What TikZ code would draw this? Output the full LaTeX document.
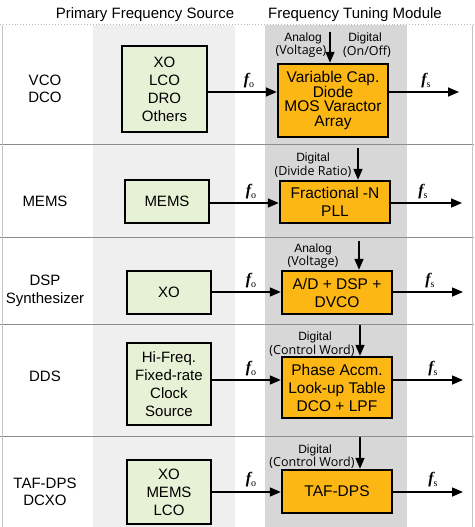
\documentclass[tikz,border=0pt]{standalone}
\usepackage{fontspec}
\setmainfont{Liberation Sans}
\newfontfamily\ctlfont{Open Sans}
\newfontfamily\ffont{Liberation Serif}
\usetikzlibrary{arrows.meta}
\definecolor{srcgreen}{HTML}{E6F1D6}
\definecolor{tunorange}{HTML}{FDB714}
\definecolor{colA}{HTML}{EFEFEF}
\definecolor{colB}{HTML}{D7D7D7}
\definecolor{sepgray}{HTML}{8C8C8C}
\tikzset{
  srcbox/.style={draw=black, line width=2.4pt, fill=srcgreen, align=center, inner sep=0pt,
    font=\fontsize{15}{18}\selectfont},
  tunbox/.style={draw=black, line width=2.4pt, fill=tunorange, align=center, inner sep=0pt,
    font=\fontsize{15.5}{18}\selectfont},
  rowlabel/.style={align=center, font=\fontsize{15}{17.5}\selectfont},
  header/.style={font=\fontsize{15}{18}\selectfont},
  ctltop/.style={font=\fontsize{12}{13}\selectfont, inner sep=0pt},
  ctlsub/.style={font=\fontsize{12.5}{13}\ctlfont\selectfont, inner sep=0pt},
  flabel/.style={font=\fontsize{16}{18}\selectfont, inner sep=0pt},
  arr/.style={line width=1.5pt, -{Triangle[length=11pt,width=9pt]}},
  sep/.style={draw=sepgray, line width=0.9pt}
}
\newcommand{\fo}{{\ffont\bfseries\itshape f}\raisebox{-0.25ex}{\ffont\fontsize{10}{10}\selectfont o}}
\newcommand{\fsv}{{\ffont\bfseries\itshape f}\raisebox{-0.25ex}{\ffont\fontsize{10}{10}\selectfont s}}
\begin{document}
\begin{tikzpicture}[x=1pt,y=-1pt]
\useasboundingbox (0,0) rectangle (474,527);
% columns
\fill[colA] (93,25) rectangle (235,527);
\fill[colB] (265,25) rectangle (407,527);
% separators
\draw[sep, draw=sepgray!60, dotted, line width=1pt] (0,25) -- (474,25);
\draw[sep] (0,144) -- (474,144);
\draw[sep] (0,237) -- (474,237);
\draw[sep] (0,324) -- (474,324);
\draw[sep] (0,436) -- (474,436);
\draw[draw=sepgray!50, line width=0.8pt] (2,25) -- (2,527);
\draw[draw=sepgray!50, line width=0.8pt] (472,25) -- (472,527);
% headers
\node[header] (h1) at (145,15) {Primary Frequency Source};
\node[header] (h2) at (355,15) {Frequency Tuning Module};

% ---- Row 1
\node[rowlabel] (l1) at (45,89) {VCO\\DCO};
\node[srcbox, minimum width=85pt, minimum height=86pt] (s1) at (164.5,89) {XO\\LCO\\DRO\\Others};
\node[tunbox, minimum width=110pt, minimum height=73pt, font=\fontsize{15.5}{14.8}\selectfont] (t1) at (333,100.5) {Variable Cap.\\Diode\\MOS Varactor\\Array};
\coordinate (r1) at (0,92);
\coordinate (o1) at (459,92);
\draw[arr] (s1.east |- r1) -- (t1.west |- r1);
\draw[arr] (t1.east |- r1) -- (o1);
\node[flabel] (f01) at (249,81) {\fo};
\node[flabel] (fs1) at (426,81) {\fsv};
\coordinate (c1) at (330,32);
\draw[arr] (c1) -- (c1 |- t1.north);
\node[ctltop] (a1) at (303,38) {Analog};
\node[ctlsub] (a1b) at (301,51.5) {(Voltage)};
\node[ctltop] (d1) at (365,38) {Digital};
\node[ctlsub] (d1b) at (367,51.5) {(On/Off)};

% ---- Row 2
\node[rowlabel] (l2) at (45,201) {MEMS};
\node[srcbox, minimum width=84pt, minimum height=43pt] (s2) at (167,201.5) {MEMS};
\node[tunbox, minimum width=110pt, minimum height=42pt] (t2) at (335,202) {Fractional -N\\PLL};
\coordinate (r2) at (0,203);
\coordinate (o2) at (462,203);
\draw[arr] (s2.east |- r2) -- (t2.west |- r2);
\draw[arr] (t2.east |- r2) -- (o2);
\node[flabel] (f02) at (251,192) {\fo};
\node[flabel] (fs2) at (423,192) {\fsv};
\coordinate (c2) at (358,148);
\draw[arr] (c2) -- (c2 |- t2.north);
\node[ctltop] (a2) at (313,158) {Digital};
\node[ctlsub] (a2b) at (313,171.5) {(Divide Ratio)};

% ---- Row 3
\node[rowlabel] (l3) at (45,291) {DSP\\Synthesizer};
\node[srcbox, minimum width=84pt, minimum height=43pt] (s3) at (169,292.5) {XO};
\node[tunbox, minimum width=110pt, minimum height=43pt] (t3) at (337,292.5) {A/D + DSP +\\DVCO};
\coordinate (r3) at (0,292);
\coordinate (o3) at (463,292);
\draw[arr] (s3.east |- r3) -- (t3.west |- r3);
\draw[arr] (t3.east |- r3) -- (o3);
\node[flabel] (f03) at (251,281) {\fo};
\node[flabel] (fs3) at (430,281) {\fsv};
\coordinate (c3) at (359,241);
\draw[arr] (c3) -- (c3 |- t3.north);
\node[ctltop] (a3) at (313,249) {Analog};
\node[ctlsub] (a3b) at (313,262.5) {(Voltage)};

% ---- Row 4
\node[rowlabel] (l4) at (45,376) {DDS};
\node[srcbox, minimum width=84pt, minimum height=82pt] (s4) at (169,384) {Hi-Freq.\\Fixed-rate\\Clock\\Source};
\node[tunbox, minimum width=110pt, minimum height=61pt] (t4) at (337,387.5) {Phase Accm.\\Look-up Table\\DCO + LPF};
\coordinate (r4) at (0,380);
\coordinate (o4) at (463,380);
\draw[arr] (s4.east |- r4) -- (t4.west |- r4);
\draw[arr] (t4.east |- r4) -- (o4);
\node[flabel] (f04) at (251,369) {\fo};
\node[flabel] (fs4) at (433,369) {\fsv};
\coordinate (c4) at (360,325);
\draw[arr] (c4) -- (c4 |- t4.north);
\node[ctltop] (a4) at (315,337) {Digital};
\node[ctlsub] (a4b) at (312,350.5) {(Control Word)};

% ---- Row 5
\node[rowlabel] (l5) at (45,492) {TAF-DPS\\DCXO};
\node[srcbox, minimum width=84pt, minimum height=64pt] (s5) at (169,492) {XO\\MEMS\\LCO};
\node[tunbox, minimum width=110pt, minimum height=43pt] (t5) at (337,491.5) {TAF-DPS};
\coordinate (r5) at (0,492);
\coordinate (o5) at (463,492);
\draw[arr] (s5.east |- r5) -- (t5.west |- r5);
\draw[arr] (t5.east |- r5) -- (o5);
\node[flabel] (f05) at (251,480) {\fo};
\node[flabel] (fs5) at (433,480) {\fsv};
\coordinate (c5) at (360,437);
\draw[arr] (c5) -- (c5 |- t5.north);
\node[ctltop] (a5) at (315,450) {Digital};
\node[ctlsub] (a5b) at (312,463) {(Control Word)};
\end{tikzpicture}
\end{document}
